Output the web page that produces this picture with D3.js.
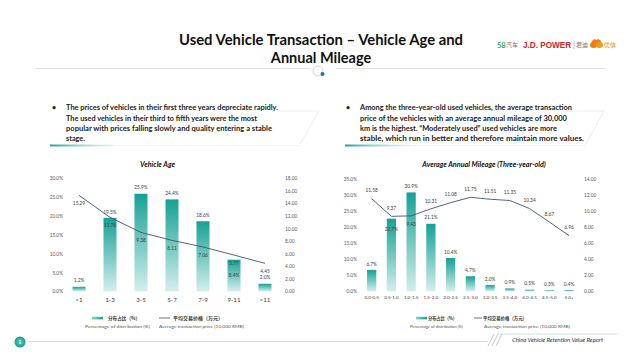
<!DOCTYPE html>
<html><head><meta charset="utf-8">
<script src="https://cdn.jsdelivr.net/npm/d3@7"></script>
<style>body{margin:0;background:#fff}svg{display:block}</style>
</head><body><svg id="c" width="640" height="360"></svg>
<script>
// ---------------- data ----------------
const ageCategories = ["<1", "1-3", "3-5", "5-7", "7-9", "9-11", ">11"];
const agePct = [1.2, 19.5, 25.9, 24.4, 18.6, 8.4, 2.0];
const agePrice = [15.29, 11.78, 9.38, 8.11, 7.06, 5.77, 4.45];
const ageLeftTicks = [0, 5, 10, 15, 20, 25, 30];
const ageRightTicks = [0, 2, 4, 6, 8, 10, 12, 14, 16, 18];

const mileageCategories = ["0.0-0.5", "0.5-1.0", "1.0-1.5", "1.5-2.0", "2.0-2.5", "2.5-3.0", "3.0-3.5", "3.5-4.0", "4.0-4.5", "4.5-5.0", "5.0+"];
const mileagePct = [6.7, 22.7, 30.9, 21.1, 10.4, 4.7, 2.0, 0.9, 0.5, 0.3, 0.4];
const mileagePrice = [11.58, 9.37, 9.43, 10.31, 11.08, 11.75, 11.51, 11.35, 10.34, 8.67, 6.96];
const mileageLeftTicks = [0, 5, 10, 15, 20, 25, 30, 35];
const mileageRightTicks = [0, 2, 4, 6, 8, 10, 12, 14];

const titleLines = ["Used Vehicle Transaction \u2013 Vehicle Age and", "Annual Mileage"];
const leftBullet = [
  "The prices of vehicles in their first three years depreciate rapidly.",
  "The used vehicles in their third to fifth years were the most",
  "popular with prices falling slowly and quality entering a stable",
  "stage."
];
const rightBullet = [
  "Among the three-year-old used vehicles, the average transaction",
  "price of the vehicles with an average annual mileage of 30,000",
  "km is the highest. \u201cModerately used\u201d used vehicles are more",
  "stable, which run in better and therefore maintain more values."
];
const legendPctCN = "\u5206\u5e03\u5360\u6bd4\uff08%\uff09";
const legendPctEN = "Percentage of distribution (%)";
const legendPriceCN = "\u5e73\u5747\u4ea4\u6613\u4ef7\u683c\uff08\u4e07\u5143\uff09";
const legendPriceEN = "Average transaction price (10,000 RMB)";
const footerText = "China Vehicle Retention Value  Report";

// ---------------- drawing ----------------
const svg = d3.select("#c");
const FONT = "Lato, 'Open Sans', sans-serif";
const CJK = "'Noto Sans CJK SC', sans-serif";
const TEAL = "#17a397";
const LINE = "#44546a";

const defs = svg.append("defs");
const gv = defs.append("linearGradient").attr("id", "barGrad").attr("x1", 0).attr("y1", 0).attr("x2", 0).attr("y2", 1);
gv.append("stop").attr("offset", "0%").attr("stop-color", "#16a195");
gv.append("stop").attr("offset", "100%").attr("stop-color", "#d3efec");
const gh = defs.append("linearGradient").attr("id", "swGrad").attr("x1", 0).attr("y1", 0).attr("x2", 1).attr("y2", 0);
gh.append("stop").attr("offset", "0%").attr("stop-color", "#7fd3cb");
gh.append("stop").attr("offset", "100%").attr("stop-color", "#17a397");
const gc = defs.append("linearGradient").attr("id", "cyanGrad").attr("x1", 0).attr("y1", 0).attr("x2", 1).attr("y2", 0);
gc.append("stop").attr("offset", "0%").attr("stop-color", "#1aa59a");
gc.append("stop").attr("offset", "100%").attr("stop-color", "#bfeae6").attr("stop-opacity", 0.3);
const gcirc = defs.append("radialGradient").attr("id", "circGrad");
gcirc.append("stop").attr("offset", "0%").attr("stop-color", "#5fd0c6");
gcirc.append("stop").attr("offset", "100%").attr("stop-color", "#129c90");

function fit(sel, w) {
  const n = sel.node();
  const L = n.getComputedTextLength();
  if (Math.abs(L - w) / w > 0.02) sel.attr("textLength", w).attr("lengthAdjust", "spacingAndGlyphs");
  return sel;
}

// Title
const titleG = svg.append("g");
[[40, 284], [58, 102]].forEach((p, i) => {
  const t = titleG.append("text").attr("x", 321).attr("y", p[0]).attr("dy", "0.35em")
    .attr("text-anchor", "middle").attr("font-family", FONT).attr("font-weight", 700)
    .attr("font-size", 14.5).attr("fill", "#111").text(titleLines[i]);
  fit(t, p[1]);
});
// Separator
svg.append("line").attr("x1", 36).attr("x2", 310).attr("y1", 68.5).attr("y2", 68.5).attr("stroke", "#d9d9d9").attr("stroke-width", 0.8);
svg.append("line").attr("x1", 336).attr("x2", 606).attr("y1", 68.5).attr("y2", 68.5).attr("stroke", "#d9d9d9").attr("stroke-width", 0.8);
svg.append("circle").attr("cx", 318).attr("cy", 71).attr("r", 5).attr("fill", "none").attr("stroke", "#d6d6d6").attr("stroke-width", 1);
svg.append("circle").attr("cx", 322.5).attr("cy", 74).attr("r", 2).attr("fill", "#2e6db0");

// Logos
const logo = svg.append("g").attr("font-size", 7.5);
logo.append("text").attr("x", 497).attr("y", 45).attr("dy", "0.35em").attr("font-family", FONT).attr("font-weight", 700).attr("fill", "#3aa64a").text("58");
logo.append("text").attr("x", 506).attr("y", 45).attr("dy", "0.35em").attr("font-family", CJK).attr("font-size", 6).attr("fill", "#777").text("\u6c7d\u8f66");
logo.append("text").attr("x", 523).attr("y", 45).attr("dy", "0.35em").attr("font-family", "'Liberation Sans', sans-serif").attr("font-weight", 700).attr("font-size", 8.2).attr("fill", "#d3222a").text("J.D. POWER");
logo.append("line").attr("x1", 574).attr("x2", 574).attr("y1", 41).attr("y2", 49).attr("stroke", "#999").attr("stroke-width", 0.6);
logo.append("text").attr("x", 576).attr("y", 45).attr("dy", "0.35em").attr("font-family", CJK).attr("font-size", 6).attr("fill", "#777").text("\u541b\u8fea");
logo.append("path").attr("d", "M593,45 a3,3 0 1,1 3.5,0 a3,3 0 1,1 3.5,0 z").attr("fill", "#ef7d14");
logo.append("ellipse").attr("cx", 593.5).attr("cy", 45).attr("rx", 3.5).attr("ry", 3).attr("fill", "#ef7d14");
logo.append("ellipse").attr("cx", 599.5).attr("cy", 45).attr("rx", 3.5).attr("ry", 3).attr("fill", "#f29a1c");
logo.append("text").attr("x", 604).attr("y", 45).attr("dy", "0.35em").attr("font-family", CJK).attr("font-size", 6).attr("fill", "#f08c1a").text("\u4f18\u4fe1");

// Bullet boxes
function bulletBox(x0, lines, widths, diag, cyan) {
  const g = svg.append("g");
  g.append("text").attr("x", x0 - 14).attr("y", 108).attr("dy", "0.35em").attr("font-family", FONT).attr("font-weight", 700).attr("font-size", 7).attr("fill", "#222").text("\u2022");
  lines.forEach((s, i) => {
    const t = g.append("text").attr("x", x0).attr("y", 108 + i * 10.3).attr("dy", "0.35em")
      .attr("font-family", FONT).attr("font-weight", 700).attr("font-size", 7).attr("fill", "#222").text(s);
    fit(t, widths[i]);
  });
  // decorative outline
  g.append("line").attr("x1", diag[0] - 40).attr("x2", diag[0]).attr("y1", 111).attr("y2", 111).attr("stroke", "#e3ecec").attr("stroke-width", 0.8);
  g.append("line").attr("x1", diag[0]).attr("x2", diag[1]).attr("y1", 111).attr("y2", 144).attr("stroke", "#dfe9e9").attr("stroke-width", 0.8);
  g.append("line").attr("x1", cyan[0]).attr("x2", diag[1]).attr("y1", 145.5).attr("y2", 145.5).attr("stroke", "#eef2f2").attr("stroke-width", 0.8);
  g.append("rect").attr("x", cyan[0]).attr("y", 144.5).attr("width", cyan[1] - cyan[0]).attr("height", 2).attr("fill", "url(#cyanGrad)");
}
bulletBox(66, leftBullet, [212, 191, 206, 19], [319, 300], [50, 113]);
bulletBox(360, rightBullet, [212, 207, 197, 224], [604, 586], [345, 410]);

// Combo chart
function comboChart(cfg) {
  const g = svg.append("g");
  const x = d3.scaleBand().domain(cfg.categories).range(cfg.xRange)
    .paddingInner(cfg.padIn).paddingOuter(cfg.padIn / 2);
  const yL = d3.scaleLinear().domain([0, d3.max(cfg.leftTicks)]).range(cfg.yRange);
  const yR = d3.scaleLinear().domain([0, d3.max(cfg.rightTicks)]).range(cfg.yRange);

  g.append("text").attr("x", cfg.titleX).attr("y", 164).attr("dy", "0.35em").attr("text-anchor", "middle")
    .attr("font-family", FONT).attr("font-weight", 700).attr("font-style", "italic").attr("font-size", 7.2)
    .attr("fill", "#111").text(cfg.title);

  const axL = g.append("g").attr("transform", `translate(${cfg.leftAxisX},0)`)
    .call(d3.axisLeft(yL).tickValues(cfg.leftTicks).tickSize(0).tickPadding(0).tickFormat(v => v.toFixed(1) + "%"));
  const axR = g.append("g").attr("transform", `translate(${cfg.rightAxisX},0)`)
    .call(d3.axisRight(yR).tickValues(cfg.rightTicks).tickSize(0).tickPadding(0).tickFormat(v => v.toFixed(2)));
  [axL, axR].forEach(a => {
    a.select(".domain").remove();
    a.selectAll("text").attr("font-family", FONT).attr("font-size", 4.8).attr("fill", "#595959");
  });
  const axB = g.append("g").attr("transform", `translate(0,${cfg.catY})`)
    .call(d3.axisBottom(x).tickSize(0).tickPadding(0));
  axB.select(".domain").remove();
  axB.selectAll("text").attr("font-family", FONT).attr("font-size", cfg.catFont).attr("fill", "#404040");

  g.selectAll("rect.bar").data(cfg.pct).join("rect").attr("class", "bar")
    .attr("x", (d, i) => x(cfg.categories[i])).attr("width", x.bandwidth())
    .attr("y", d => yL(d)).attr("height", d => yL(0) - yL(d)).attr("fill", "url(#barGrad)");

  const line = d3.line().x((d, i) => x(cfg.categories[i]) + x.bandwidth() / 2).y(d => yR(d));
  g.append("path").datum(cfg.price).attr("d", line).attr("fill", "none").attr("stroke", LINE).attr("stroke-width", 0.9);

  g.selectAll("text.pl").data(cfg.pct).join("text").attr("class", "pl")
    .attr("x", (d, i) => x(cfg.categories[i]) + x.bandwidth() / 2)
    .attr("y", (d, i) => cfg.pctInside.includes(i) ? yL(d) + cfg.insideOff : yL(d) - 6)
    .attr("dy", "0.35em").attr("text-anchor", "middle").attr("font-family", FONT).attr("font-size", 4.8)
    .attr("fill", "#404040").text(d => d.toFixed(1) + "%");

  g.selectAll("text.vl").data(cfg.price).join("text").attr("class", "vl")
    .attr("x", (d, i) => x(cfg.categories[i]) + x.bandwidth() / 2)
    .attr("y", (d, i) => yR(d) + (cfg.flip.includes(i) ? -cfg.lineOff : cfg.lineOff))
    .attr("dy", "0.35em").attr("text-anchor", "middle").attr("font-family", FONT).attr("font-size", 4.8)
    .attr("fill", "#404040").text(d => d.toFixed(2));

  // legend
  const L = cfg.legend;
  const lg = g.append("g");
  lg.append("rect").attr("x", L.sw[0]).attr("y", 316.8).attr("width", L.sw[1] - L.sw[0]).attr("height", 2.6).attr("fill", "url(#swGrad)");
  fit(lg.append("text").attr("x", L.cn1).attr("y", 318).attr("dy", "0.35em").attr("font-family", CJK).attr("font-weight", 700).attr("font-size", 5).attr("fill", "#333").text(legendPctCN), L.cn1w);
  lg.append("line").attr("x1", L.ln[0]).attr("x2", L.ln[1]).attr("y1", 318).attr("y2", 318).attr("stroke", LINE).attr("stroke-width", 0.8);
  fit(lg.append("text").attr("x", L.cn2).attr("y", 318).attr("dy", "0.35em").attr("font-family", CJK).attr("font-weight", 700).attr("font-size", 5).attr("fill", "#333").text(legendPriceCN), L.cn2w);
  fit(lg.append("text").attr("x", L.en1).attr("y", 326).attr("dy", "0.35em").attr("font-family", FONT).attr("font-size", 4.6).attr("fill", "#555").text(legendPctEN), L.en1w);
  fit(lg.append("text").attr("x", L.en2).attr("y", 326).attr("dy", "0.35em").attr("font-family", FONT).attr("font-size", 4.6).attr("fill", "#555").text(legendPriceEN), L.en2w);
}

comboChart({
  categories: ageCategories, pct: agePct, price: agePrice,
  leftTicks: ageLeftTicks, rightTicks: ageRightTicks,
  xRange: [63.5, 280.5], padIn: 0.58, yRange: [291.3, 178.3],
  leftAxisX: 63, rightAxisX: 285, catY: 298, catFont: 6.2,
  title: "Vehicle Age", titleX: 157.5,
  pctInside: [5], insideOff: 16, flip: [], lineOff: 8,
  legend: { sw: [92, 103], cn1: 108, cn1w: 32, ln: [159, 170], cn2: 173, cn2w: 50, en1: 85, en1w: 65, en2: 159, en2w: 85 }
});
comboChart({
  categories: mileageCategories, pct: mileagePct, price: mileagePrice,
  leftTicks: mileageLeftTicks, rightTicks: mileageRightTicks,
  xRange: [361.8, 578.9], padIn: 0.53, yRange: [291.3, 179.3],
  leftAxisX: 357, rightAxisX: 584, catY: 296, catFont: 4.6,
  title: "Average Annual Mileage (Three-year-old)", titleX: 484,
  pctInside: [1], insideOff: 11, flip: [0, 1, 3, 4, 5, 6, 7, 8, 9, 10], lineOff: 8,
  legend: { sw: [416, 427], cn1: 428, cn1w: 29, ln: [474, 482], cn2: 483, cn2w: 44, en1: 410, en1w: 53, en2: 484, en2w: 86 }
});

// Footer
svg.append("line").attr("x1", 28).attr("x2", 488).attr("y1", 341.5).attr("y2", 341.5).attr("stroke", "#b9dcd8").attr("stroke-width", 0.8);
[0, 4, 8].forEach(o => svg.append("line").attr("x1", 488 + o).attr("x2", 494 + o).attr("y1", 346).attr("y2", 334).attr("stroke", "#9aa9a8").attr("stroke-width", 0.6));
svg.append("line").attr("x1", 498).attr("x2", 617).attr("y1", 334).attr("y2", 334).attr("stroke", "#b9dcd8").attr("stroke-width", 0.8);
fit(svg.append("text").attr("x", 512).attr("y", 340).attr("dy", "0.35em").attr("font-family", FONT).attr("font-style", "italic").attr("font-size", 5.5).attr("fill", "#333").text(footerText), 91);
svg.append("circle").attr("cx", 20).attr("cy", 342).attr("r", 5.5).attr("fill", "url(#circGrad)");
svg.append("text").attr("x", 20).attr("y", 342).attr("dy", "0.35em").attr("text-anchor", "middle").attr("font-family", FONT).attr("font-size", 5).attr("fill", "#fff").text("1");
</script></body></html>
